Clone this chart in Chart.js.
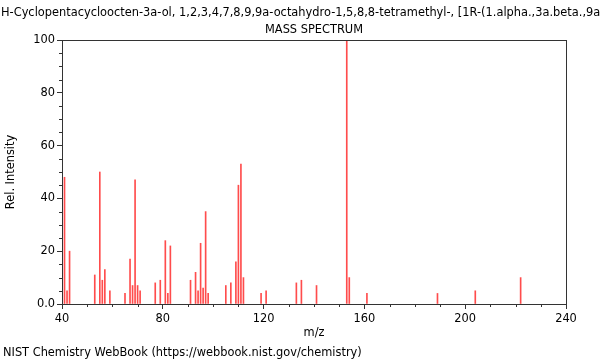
<!DOCTYPE html>
<html>
<head>
<meta charset="utf-8">
<script src="https://cdn.jsdelivr.net/npm/chart.js@4"></script>
<style>
  body { margin: 0; background: #fff; }
  #wrap { width: 600px; height: 360px; }
</style>
</head>
<body>
<div id="wrap"><canvas id="myChart" width="600" height="360"></canvas></div>
<script>
// peaks
const mz = [41, 42, 43, 53, 55, 56, 57, 59, 65, 67, 68, 69, 70, 71, 77, 79, 81, 82, 83,
    91, 93, 94, 95, 96, 97, 98, 105, 107, 109, 110, 111, 112, 119, 121, 133, 135, 141,
    153, 154, 161, 189, 204, 222];
const intensity = [48, 5, 20, 11, 50, 9, 13, 5, 4, 17, 7, 47, 7, 5, 8, 9, 24, 4, 22,
    9, 12, 5, 23, 6, 35, 4, 7, 8, 16, 45, 53, 10, 4, 5, 8, 9, 7,
    100, 10, 4, 4, 5, 10];
const xTicks = [40, 80, 120, 160, 200, 240];
const yTicks = [0, 20, 40, 60, 80, 100];

const compoundName = '1H-Cyclopentacycloocten-3a-ol, 1,2,3,4,7,8,9,9a-octahydro-1,5,8,8-tetramethyl-, [1R-(1.alpha.,3a.beta.,9a.alpha.)]-';
const FONT = '11.4px "DejaVu Sans"';

const points = mz.map((m, i) => ({ x: m, y: intensity[i] }));

// frame, minor ticks and the texts around the plot
const decorations = {
    id: 'decorations',
    afterDraw(chart) {
        const c = chart.ctx;
        const a = chart.chartArea;
        const xs = chart.scales.x;
        const ys = chart.scales.y;
        c.save();
        c.strokeStyle = '#333';
        c.lineWidth = 1;
        c.strokeRect(Math.round(a.left) + 0.5, Math.round(a.top) + 0.5,
            Math.round(a.right - a.left), Math.round(a.bottom - a.top));

        c.beginPath();
        for (let v = 40; v <= 240; v += 10) {
            if (v % 40 === 0) continue;
            const px = Math.round(xs.getPixelForValue(v)) + 0.5;
            c.moveTo(px, a.bottom);
            c.lineTo(px, a.bottom + 3);
        }
        for (let v = 0; v <= 100; v += 5) {
            if (v % 20 === 0) continue;
            const py = Math.round(ys.getPixelForValue(v)) + 0.5;
            c.moveTo(a.left, py);
            c.lineTo(a.left - 3, py);
        }
        c.stroke();

        c.fillStyle = '#000';
        c.font = FONT;
        c.textBaseline = 'middle';
        c.textAlign = 'left';
        c.fillText(compoundName, 1 - c.measureText('1').width, 13);
        c.fillText('NIST Chemistry WebBook (https://webbook.nist.gov/chemistry)', 3, 353);
        c.textAlign = 'center';
        const mid = (a.left + a.right) / 2;
        c.fillText('MASS SPECTRUM', mid, 30);
        c.fillText('m/z', mid, 333);
        c.translate(11, (a.top + a.bottom) / 2);
        c.rotate(-Math.PI / 2);
        c.fillText('Rel. Intensity', 0, 0);
        c.restore();
    }
};

const ctx = document.getElementById('myChart').getContext('2d');
const myChart = new Chart(ctx, {
    type: 'bar',
    data: {
        datasets: [{
            label: 'Rel. Intensity',
            data: points,
            backgroundColor: 'rgba(255, 0, 0, 0.7)',
            borderWidth: 0,
            barThickness: 1
        }]
    },
    options: {
        responsive: false,
        animation: false,
        layout: { padding: { top: 40, right: 34, left: 0, bottom: 0 } },
        plugins: {
            legend: { display: false },
            tooltip: { enabled: false }
        },
        scales: {
            x: {
                type: 'linear',
                min: 40,
                max: 240,
                offset: false,
                afterBuildTicks: s => { s.ticks = xTicks.map(v => ({ value: v })); },
                afterFit: s => { s.height = 56; },
                grid: { offset: false, drawOnChartArea: false, tickLength: 5, tickColor: '#333' },
                border: { color: '#333' },
                ticks: { color: '#000', font: { family: 'DejaVu Sans', size: 11.4 }, padding: 3, maxRotation: 0 }
            },
            y: {
                min: 0,
                max: 100,
                afterBuildTicks: s => { s.ticks = yTicks.map(v => ({ value: v })); },
                afterFit: s => { s.width = 62; },
                grid: { drawOnChartArea: false, tickLength: 5, tickColor: '#333' },
                border: { color: '#333' },
                ticks: {
                    color: '#000',
                    font: { family: 'DejaVu Sans', size: 11.4 },
                    padding: 2,
                    callback: v => v === 0 ? '0.0' : v
                }
            }
        }
    },
    plugins: [decorations]
});
</script>
</body>
</html>
